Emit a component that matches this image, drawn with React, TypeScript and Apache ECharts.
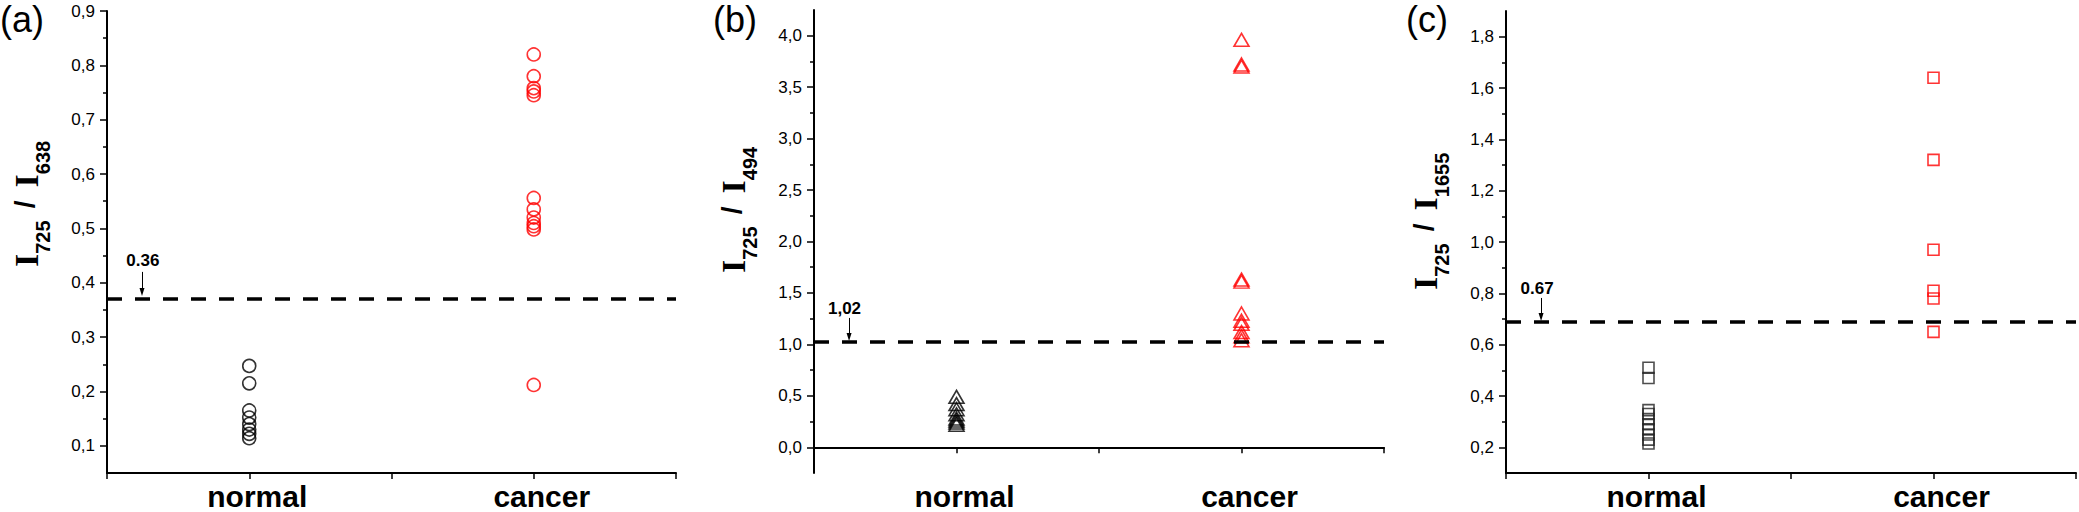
import React, { useEffect, useRef } from "react";
import * as echarts from "echarts";

// ---- data ----
const categories = ["normal", "cancer"];

const normalA = [0.247, 0.215, 0.165, 0.152, 0.14, 0.13, 0.122, 0.114];
const cancerA = [0.82, 0.78, 0.758, 0.752, 0.745, 0.556, 0.535, 0.52, 0.51, 0.504, 0.498, 0.212];

const normalB = [0.49, 0.42, 0.37, 0.32, 0.28, 0.26, 0.24, 0.22];
const cancerB = [3.96, 3.72, 3.7, 1.63, 1.61, 1.3, 1.23, 1.2, 1.12, 1.08, 1.04];

const normalC = [0.51, 0.47, 0.345, 0.33, 0.31, 0.29, 0.27, 0.25, 0.23, 0.215];
const cancerC = [1.64, 1.32, 0.97, 0.81, 0.78, 0.65];

const majorTicksA = [0.1, 0.2, 0.3, 0.4, 0.5, 0.6, 0.7, 0.8, 0.9];
const minorTicksA = [0.15, 0.25, 0.35, 0.45, 0.55, 0.65, 0.75, 0.85];
const majorTicksB = [0, 0.5, 1, 1.5, 2, 2.5, 3, 3.5, 4];
const minorTicksB = [0.25, 0.75, 1.25, 1.75, 2.25, 2.75, 3.25, 3.75];
const majorTicksC = [0.2, 0.4, 0.6, 0.8, 1.0, 1.2, 1.4, 1.6, 1.8];
const minorTicksC = [0.3, 0.5, 0.7, 0.9, 1.1, 1.3, 1.5, 1.7];

const thresholds = [0.374, 1.033, 0.686];
const thresholdLabels = ["0.36", "1,02", "0.67"];
const panelLabels = ["(a)", "(b)", "(c)"];
const denominators = ["638", "494", "1655"];

const SANS = '"Liberation Sans", Arial, Helvetica, sans-serif';
const SERIF = '"Liberation Serif", "Times New Roman", serif';

const panels = [
  {
    left: 107, top: 11, width: 569, height: 462, yMin: 0.05, yMax: 0.9,
    major: majorTicksA, minor: minorTicksA, normal: normalA, cancer: cancerA,
    symbol: "circle", size: 13 as any,
    arrowTop: 0.42, arrowTip: 0.383, textX: 0.626, textY: 0.441,
    labelX: 0, titleBottom: 267,
  },
  {
    left: 814, top: 10, width: 570, height: 463, yMin: -0.25, yMax: 4.25,
    major: majorTicksB, minor: minorTicksB, normal: normalB, cancer: cancerB,
    symbol: "triangle", size: [15, 13] as any,
    arrowTop: 1.257, arrowTip: 1.073, textX: 0.607, textY: 1.344,
    labelX: 713, titleBottom: 273,
  },
  {
    left: 1506, top: 11, width: 570, height: 462, yMin: 0.1, yMax: 1.9,
    major: majorTicksC, minor: minorTicksC, normal: normalC, cancer: cancerC,
    symbol: "rect", size: 11 as any,
    arrowTop: 0.782, arrowTip: 0.708, textX: 0.609, textY: 0.819,
    labelX: 1406, titleBottom: 290,
  },
];

function measure(text: string, font: string): number {
  const ctx = document.createElement("canvas").getContext("2d");
  if (!ctx) return text.length * 10;
  ctx.font = font;
  return ctx.measureText(text).width;
}

function txt(text: string, x: number, y: number, font: string, align = "left") {
  return {
    type: "text",
    x,
    y,
    silent: true,
    style: {
      text,
      font,
      fill: "#000",
      align,
      verticalAlign: "middle",
      textAlign: align,
      textVerticalAlign: "middle",
    },
  };
}

function titleGroup(x: number, yBottom: number, sub2: string) {
  const fI = `bold 34px ${SERIF}`;
  const fSub = `bold 20px ${SANS}`;
  const fSlash = `bold 28px ${SANS}`;
  const wI = measure("I", fI);
  const w1 = measure("725", fSub);
  const children: any[] = [];
  let p = 0;
  children.push(txt("I", p, -11.5, fI));
  p += wI;
  children.push(txt("725", p, 4.5, fSub));
  p += w1;
  children.push(txt("/", p + 16, -14, fSlash, "center"));
  p += 33;
  children.push(txt("I", p, -11.5, fI));
  p += wI;
  children.push(txt(sub2, p, 4.5, fSub));
  return { type: "group", x, y: yBottom, rotation: Math.PI / 2, children };
}

const fmt = (v: number) => v.toFixed(1).replace(".", ",");

export default function App() {
  const ref = useRef<HTMLDivElement>(null);

  useEffect(() => {
    if (!ref.current) return;
    const chart = echarts.init(ref.current, null, { renderer: "svg" });

    const grid: any[] = [];
    const xAxis: any[] = [];
    const yAxis: any[] = [];
    const series: any[] = [];
    const graphic: any[] = [];

    panels.forEach((p, i) => {
      grid.push({ left: p.left, top: p.top, width: p.width, height: p.height, containLabel: false });
      xAxis.push({
        type: "value",
        gridIndex: i,
        min: 0.5,
        max: 2.5,
        interval: 0.5,
        splitLine: { show: false },
        axisLine: { lineStyle: { color: "#000", width: 2 } },
        axisTick: { length: 6, lineStyle: { color: "#000", width: 1.5 } },
        axisLabel: {
          margin: 8,
          color: "#000",
          fontFamily: SANS,
          fontWeight: "bold",
          fontSize: 30,
          padding: [0, 0, 0, 16],
          formatter: (v: number) => {
            const idx = Math.round(v) - 1;
            return Math.abs(v - Math.round(v)) < 1e-6 && idx >= 0 && idx < categories.length ? categories[idx] : "";
          },
        },
      });
      yAxis.push({
        type: "value",
        gridIndex: i,
        min: p.yMin,
        max: p.yMax,
        splitLine: { show: false },
        axisLine: { show: true, lineStyle: { color: "#000", width: 2 } },
        axisTick: { show: true, length: 7, customValues: p.major, lineStyle: { color: "#000", width: 1.5 } },
        axisLabel: {
          show: true,
          customValues: p.major,
          margin: 12,
          color: "#000",
          fontFamily: SANS,
          fontSize: 17,
          formatter: (v: number) => fmt(v),
        },
      });
      yAxis.push({
        type: "value",
        gridIndex: i,
        min: p.yMin,
        max: p.yMax,
        position: "left",
        splitLine: { show: false },
        axisLine: { show: false },
        axisTick: { show: true, length: 4, customValues: p.minor, lineStyle: { color: "#000", width: 1.5 } },
        axisLabel: { show: false },
      });

      const symStyle = (c: string) => ({ color: "rgba(0,0,0,0)", borderColor: c, borderWidth: 1.6 });

      series.push({
        type: "scatter",
        xAxisIndex: i,
        yAxisIndex: 2 * i,
        symbol: p.symbol,
        symbolSize: p.size,
        itemStyle: symStyle(i === 2 ? "#222" : "#000"),
        data: p.normal.map((v) => [categories.indexOf("normal") + 1, v]),
        markLine: {
          silent: true,
          animation: false,
          symbol: ["none", "triangle"],
          symbolSize: [5, 8],
          label: { show: false },
          lineStyle: { color: "#000", width: 1, type: "solid" },
          data: [[{ coord: [0.623, p.arrowTop] }, { coord: [0.623, p.arrowTip] }]],
        },
        markPoint: {
          silent: true,
          animation: false,
          symbol: "circle",
          symbolSize: 1,
          itemStyle: { color: "rgba(0,0,0,0)" },
          label: {
            show: true,
            position: "inside",
            formatter: thresholdLabels[i],
            color: "#000",
            fontFamily: SANS,
            fontWeight: "bold",
            fontSize: 17,
          },
          data: [{ coord: [p.textX, p.textY] }],
        },
      });
      series.push({
        type: "scatter",
        xAxisIndex: i,
        yAxisIndex: 2 * i,
        symbol: p.symbol,
        symbolSize: p.size,
        itemStyle: symStyle("#ff0000"),
        data: p.cancer.map((v) => [categories.indexOf("cancer") + 1, v]),
        markLine: {
          silent: true,
          animation: false,
          symbol: "none",
          label: { show: false },
          lineStyle: { color: "#000", width: 3.5, type: [15, 13] },
          data: [{ yAxis: thresholds[i] }],
        },
      });

      graphic.push(txt(panelLabels[i], p.labelX, 19, `36px ${SANS}`));
      graphic.push(titleGroup(p.left - 69, p.titleBottom, denominators[i]));
    });

    chart.setOption({
      animation: false,
      backgroundColor: "#fff",
      grid,
      xAxis,
      yAxis,
      series,
      graphic,
    });

    return () => chart.dispose();
  }, []);

  return (
    <div
      ref={ref}
      style={{ position: "fixed", left: 0, top: 0, width: 2079, height: 512, background: "#fff" }}
    />
  );
}
